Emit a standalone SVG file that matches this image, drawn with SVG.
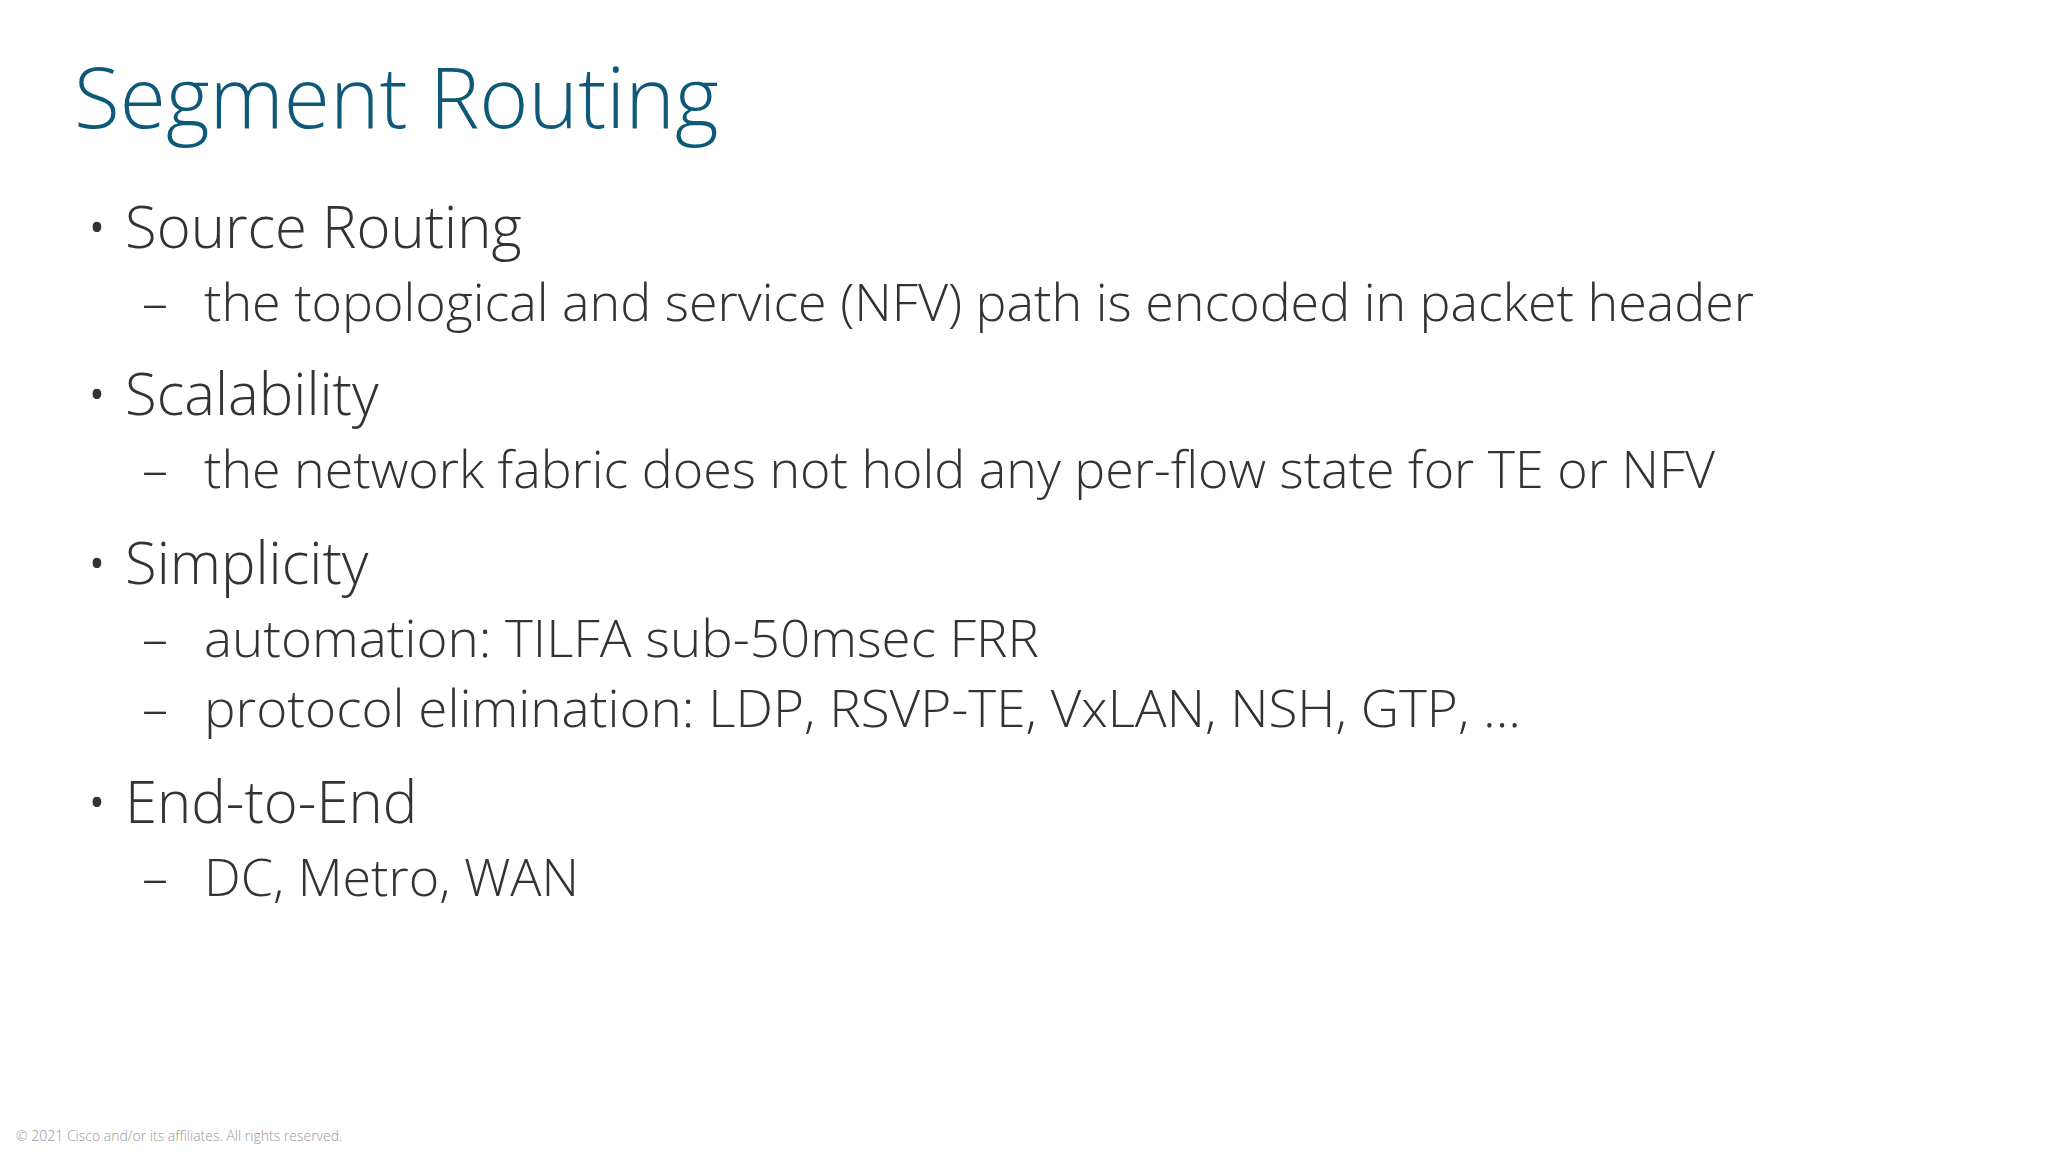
<svg xmlns="http://www.w3.org/2000/svg" width="2048" height="1152" viewBox="0 0 2048 1152">
<style>
text{font-family:"Open Sans","Liberation Sans",sans-serif;font-weight:300;fill:#333}
.t{font-size:84px;fill:#0e5878}
.b{font-size:58px}
.s{font-size:52px}
.f{font-size:14px;fill:#999}
</style>
<rect width="2048" height="1152" fill="#fff"/>
<text class="t" x="74" y="128">Segment Routing</text>
<g id="l1"><text class="b" x="86" y="248">•</text><text class="b" x="125" y="248">Source Routing</text></g>
<g id="l1s"><text class="s" x="142" y="321">–</text><text class="s" x="204" y="321" textLength="1550" lengthAdjust="spacingAndGlyphs">the topological and service (NFV) path is encoded in packet header</text></g>
<g id="l2"><text class="b" x="86" y="415">•</text><text class="b" x="125" y="415">Scalability</text></g>
<g id="l2s"><text class="s" x="142" y="488">–</text><text class="s" x="204" y="488" textLength="1511" lengthAdjust="spacingAndGlyphs">the network fabric does not hold any per-flow state for TE or NFV</text></g>
<g id="l3"><text class="b" x="86" y="584">•</text><text class="b" x="125" y="584">Simplicity</text></g>
<g id="l3s"><text class="s" x="142" y="657">–</text><text class="s" x="204" y="657" textLength="835" lengthAdjust="spacingAndGlyphs">automation: TILFA sub-50msec FRR</text></g>
<g id="l3t"><text class="s" x="142" y="727">–</text><text class="s" x="204" y="727" textLength="1317" lengthAdjust="spacingAndGlyphs">protocol elimination: LDP, RSVP-TE, VxLAN, NSH, GTP, ...</text></g>
<g id="l4"><text class="b" x="86" y="823">•</text><text class="b" x="125" y="823">End-to-End</text></g>
<g id="l4s"><text class="s" x="142" y="896">–</text><text class="s" x="204" y="896">DC, Metro, WAN</text></g>
<text class="f" x="16" y="1141">© 2021 Cisco and/or its affiliates. All rights reserved.</text>
</svg>
